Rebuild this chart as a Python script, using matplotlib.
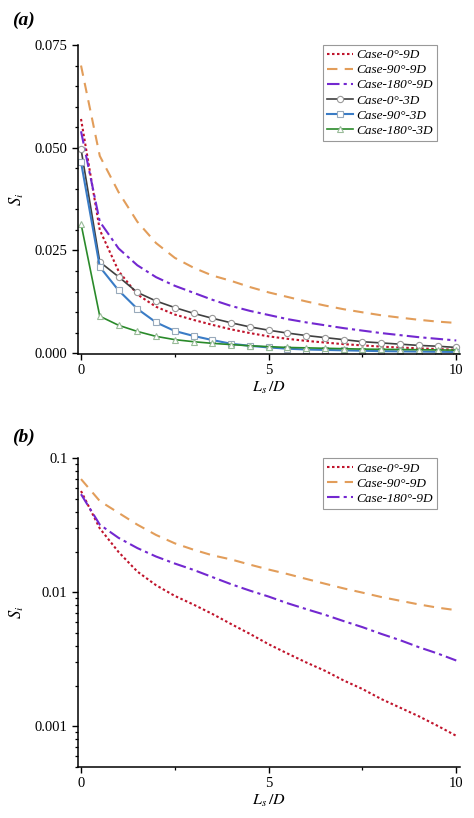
import matplotlib
matplotlib.use('Agg')
import matplotlib.pyplot as plt
from matplotlib.ticker import MultipleLocator, FixedLocator, FixedFormatter, LogLocator, NullFormatter

plt.rcParams['font.family'] = ['Liberation Serif', 'DejaVu Serif']
plt.rcParams['mathtext.fontset'] = 'stix'

# L_s/D 位置
x = [0, 0.5, 1, 1.5, 2, 2.5, 3, 3.5, 4, 4.5, 5, 5.5, 6, 6.5, 7, 7.5, 8, 8.5, 9, 9.5, 10]

# 9D 工况 (无标记)
s_0_9d = [0.057, 0.030, 0.020, 0.0143, 0.0113, 0.0094, 0.0081, 0.0069, 0.0058, 0.0049, 0.0041,
          0.0035, 0.0030, 0.0026, 0.0022, 0.0019, 0.0016, 0.00138, 0.00119, 0.00101, 0.00085]
s_90_9d = [0.070, 0.048, 0.0392, 0.0320, 0.0268, 0.0232, 0.0208, 0.0189, 0.0176, 0.0161, 0.0148,
           0.0137, 0.0126, 0.0116, 0.0107, 0.00995, 0.00923, 0.00866, 0.00813, 0.00769, 0.00736]
s_180_9d = [0.054, 0.032, 0.0255, 0.0214, 0.0185, 0.0164, 0.0147, 0.0130, 0.0115, 0.0103, 0.0093,
            0.0083, 0.0075, 0.0068, 0.0061, 0.0055, 0.0049, 0.0044, 0.0039, 0.0035, 0.0031]

# 3D 工况 (带标记)
s_0_3d = [0.0497, 0.0222, 0.0186, 0.0148, 0.0127, 0.0111, 0.0097, 0.0085, 0.0074, 0.0064, 0.0056,
          0.0049, 0.0043, 0.0038, 0.0033, 0.0028, 0.0025, 0.0022, 0.0019, 0.0017, 0.0014]
s_90_3d = [0.0465, 0.0210, 0.0153, 0.0108, 0.0075, 0.0054, 0.0042, 0.0032, 0.0023, 0.0018, 0.0014,
           0.0011, 0.0009, 0.0008, 0.0007, 0.0006, 0.0005, 0.00045, 0.0004, 0.00035, 0.0003]
s_180_3d = [0.0315, 0.0090, 0.0068, 0.0053, 0.0041, 0.0033, 0.0028, 0.0024, 0.0021, 0.0018, 0.0016,
            0.0014, 0.0013, 0.0012, 0.0011, 0.0010, 0.00095, 0.0009, 0.00085, 0.0008, 0.00075]

lab_9d = ['Case-0°-9D', 'Case-90°-9D', 'Case-180°-9D']
lab_3d = ['Case-0°-3D', 'Case-90°-3D', 'Case-180°-3D']

c_red = '#C0142C'
c_orange = '#E29D5A'
c_purple = '#7328D0'
c_black = '#404040'
c_blue = '#3A7CC6'
c_green = '#2A8A2A'

ls_red = (0, (1.2, 1.2))
ls_orange = (0, (5, 3.5))
ls_purple = (0, (6, 2, 1.5, 2))

fig = plt.figure(figsize=(4.74, 8.18), dpi=100)
ax1 = fig.add_axes([0.1646, 0.5672, 0.8059, 0.3778])
ax2 = fig.add_axes([0.1646, 0.0627, 0.8059, 0.3770])


def style_axis(ax):
    ax.spines['top'].set_visible(False)
    ax.spines['right'].set_visible(False)
    ax.spines['left'].set_linewidth(1.1)
    ax.spines['bottom'].set_linewidth(1.1)
    ax.tick_params(which='major', direction='out', length=4, width=1, labelsize=10.5)
    ax.tick_params(which='minor', direction='out', length=2.5, width=0.9)
    ax.set_xlim(-0.08, 10.1)
    ax.xaxis.set_major_locator(MultipleLocator(5))
    ax.xaxis.set_minor_locator(MultipleLocator(2.5))
    ax.set_xlabel(r'$L_s\,/D$', fontsize=11.5, labelpad=2)
    ax.set_ylabel(r'$S_i$', fontsize=12, labelpad=6)


def add_legend(ax):
    leg = ax.legend(loc='upper right', bbox_to_anchor=(0.94, 1.0), borderaxespad=0,
                    fancybox=False, edgecolor='#999999', framealpha=1, handlelength=2.0,
                    handletextpad=0.25, labelspacing=0.22, borderpad=0.3,
                    prop={'family': 'Liberation Serif', 'style': 'italic', 'size': 9.5})
    leg.get_frame().set_linewidth(0.8)


# (a) 线性坐标
ax1.plot(x, s_0_9d, color=c_red, ls=ls_red, lw=1.5, label=lab_9d[0])
ax1.plot(x, s_90_9d, color=c_orange, ls=ls_orange, lw=1.5, label=lab_9d[1])
ax1.plot(x, s_180_9d, color=c_purple, ls=ls_purple, lw=1.5, label=lab_9d[2])
ax1.plot(x, s_0_3d, color=c_black, lw=1.2, marker='o', ms=4.5, mfc='white', mec='#999999', mew=0.8, label=lab_3d[0])
ax1.plot(x, s_90_3d, color=c_blue, lw=1.5, marker='s', ms=4, mfc='white', mec='#99aabb', mew=0.8, label=lab_3d[1])
ax1.plot(x, s_180_3d, color=c_green, lw=1.2, marker='^', ms=4.5, mfc='white', mec='#99bb99', mew=0.8, label=lab_3d[2])
style_axis(ax1)
ax1.set_ylim(-0.0002, 0.075)
ax1.yaxis.set_major_locator(FixedLocator([0, 0.025, 0.05, 0.075]))
ax1.yaxis.set_major_formatter(FixedFormatter(['0.000', '0.025', '0.050', '0.075']))
ax1.yaxis.set_minor_locator(MultipleLocator(0.005))
add_legend(ax1)

# (b) 对数坐标
ax2.plot(x, s_0_9d, color=c_red, ls=ls_red, lw=1.5, label=lab_9d[0])
ax2.plot(x, s_90_9d, color=c_orange, ls=ls_orange, lw=1.5, label=lab_9d[1])
ax2.plot(x, s_180_9d, color=c_purple, ls=ls_purple, lw=1.5, label=lab_9d[2])
style_axis(ax2)
ax2.set_yscale('log')
ax2.set_ylim(0.0005, 0.1)
ax2.yaxis.set_major_locator(FixedLocator([0.001, 0.01, 0.1]))
ax2.yaxis.set_major_formatter(FixedFormatter(['0.001', '0.01', '0.1']))
ax2.yaxis.set_minor_locator(LogLocator(base=10, subs=range(2, 10)))
ax2.yaxis.set_minor_formatter(NullFormatter())
add_legend(ax2)

fig.text(0.025, 0.970, '(a)', fontsize=14, fontweight='bold', fontstyle='italic')
fig.text(0.025, 0.460, '(b)', fontsize=14, fontweight='bold', fontstyle='italic')

fig.savefig('out.png', dpi=100)
